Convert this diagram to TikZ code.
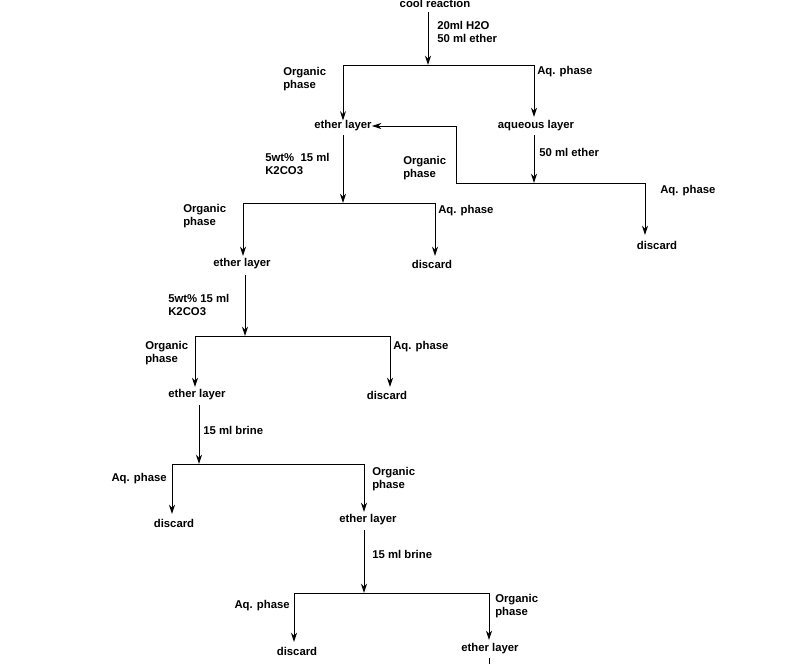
\documentclass[tikz,border=0pt]{standalone}
\usepackage{fontspec}
\setmainfont{Liberation Sans}
\usetikzlibrary{arrows.meta}
\begin{document}
\begin{tikzpicture}[x=0.75pt,y=-0.75pt,
  lbl/.style={font=\fontsize{8.5}{10}\selectfont\bfseries,inner sep=0pt,align=left},
  arr/.style={-{Stealth[length=7pt,width=4.5pt]},line width=0.7pt},
  ln/.style={line width=0.7pt}]
\useasboundingbox[fill=white] (0,0) rectangle (797,664);
% top
\node[lbl] (cool) at (435,3) {cool reaction};
\coordinate (c0) at (428,12);
\coordinate (j1) at (428,65);
\draw[arr] (c0) -- (j1);
\node[lbl,anchor=west] (l1) at (437,32) {20ml H2O\\50 ml ether};
\draw[ln] (343,65) -- (534,65);
\node[lbl] (e1) at (343,126) {ether layer};
\node[lbl] (aq1) at (536,126) {aqueous layer};
\draw[arr] (343,65) -- (e1.north);
\draw[arr] (534,65) -- (534,117);
\node[lbl,anchor=west] (op1) at (283,79) {Organic\\phase};
\node[lbl,anchor=west] (ap1) at (537,72) {Aq. phase};
% aqueous extraction
\draw[arr] (534,135) -- (534,183);
\node[lbl,anchor=west] (l2) at (539,152) {50 ml ether};
\draw[ln] (456,183) -- (645,183);
\node[lbl] (d0) at (657,245) {discard};
\draw[arr] (645,183) -- (645,235);
\node[lbl,anchor=west] (ap2) at (660,191) {Aq. phase};
\draw[arr] (456,183) -- (456,126) -- (e1.east);
\node[lbl,anchor=west] (op2) at (403,168) {Organic\\phase};
% K2CO3 wash 1
\draw[arr] (343,135) -- (343,203);
\node[lbl,anchor=west] (l3) at (265,164) {5wt\%\ \ 15 ml\\K2CO3};
\draw[ln] (243,203) -- (435,203);
\node[lbl] (e2) at (242,264) {ether layer};
\node[lbl] (d1) at (432,264) {discard};
\draw[arr] (243,203) -- (243,256);
\draw[arr] (435,203) -- (435,256);
\node[lbl,anchor=west] (op3) at (183,216) {Organic\\phase};
\node[lbl,anchor=west] (ap3) at (438,211) {Aq. phase};
% K2CO3 wash 2
\draw[arr] (245,275) -- (245,336);
\node[lbl,anchor=west] (l4) at (168,305) {5wt\% 15 ml\\K2CO3};
\draw[ln] (195,336) -- (390,336);
\node[lbl] (e3) at (197,395) {ether layer};
\node[lbl] (d2) at (387,395) {discard};
\draw[arr] (195,336) -- (195,387);
\draw[arr] (390,336) -- (390,387);
\node[lbl,anchor=west] (op4) at (145,353) {Organic\\phase};
\node[lbl,anchor=west] (ap4) at (393,347) {Aq. phase};
% brine 1
\draw[arr] (199,405) -- (199,464);
\node[lbl,anchor=west] (l5) at (203,430) {15 ml brine};
\draw[ln] (172,464) -- (364,464);
\node[lbl] (d3) at (174,523) {discard};
\node[lbl] (e4) at (368,520) {ether layer};
\draw[arr] (172,464) -- (172,514);
\draw[arr] (364,464) -- (364,512);
\node[lbl,anchor=east] (ap5) at (167,479) {Aq. phase};
\node[lbl,anchor=west] (op5) at (372,479) {Organic\\phase};
% brine 2
\draw[arr] (364,530) -- (364,593);
\node[lbl,anchor=west] (l6) at (372,554) {15 ml brine};
\draw[ln] (294,593) -- (489,593);
\node[lbl] (d4) at (297,651) {discard};
\node[lbl] (e5) at (490,649) {ether layer};
\draw[arr] (294,593) -- (294,642);
\draw[arr] (489,593) -- (489,640);
\node[lbl,anchor=east] (ap6) at (290,606) {Aq. phase};
\node[lbl,anchor=west] (op6) at (495,606) {Organic\\phase};
\coordinate (end) at (489,664);
\draw[ln] (489,658) -- (end);
\end{tikzpicture}
\end{document}
